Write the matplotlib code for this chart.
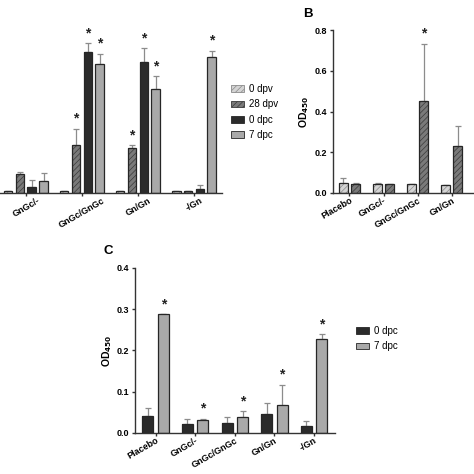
import matplotlib
matplotlib.use("Agg")
import matplotlib.pyplot as plt
from matplotlib.patches import Patch
from matplotlib.transforms import ScaledTranslation
import numpy as np

plt.rcParams['font.family'] = ['Liberation Sans', 'DejaVu Sans']
plt.rcParams['hatch.linewidth'] = 0.5

# ---------------- data ----------------
a_groups = ["GnGc/-", "GnGc/GnGc", "Gn/Gn", "-/Gn"]
a_series = ["0 dpv", "28 dpv", "0 dpc", "7 dpc"]
a_vals = [
    [0.020, 0.020, 0.023, 0.023],     # 0 dpv
    [0.190, 0.483, 0.450, 0.017],     # 28 dpv
    [0.057, 1.410, 1.310, 0.040],     # 0 dpc
    [0.120, 1.287, 1.037, 1.357],     # 7 dpc
]
a_errs = [
    [0.0, 0.0, 0.0, 0.0],
    [0.020, 0.160, 0.030, 0.0],
    [0.070, 0.087, 0.140, 0.040],
    [0.083, 0.106, 0.133, 0.066],
]
a_stars = [
    [0, 0, 0, 0],
    [0, 1, 1, 0],
    [0, 1, 1, 0],
    [0, 1, 1, 1],
]

b_groups = ["Placebo", "GnGc/-", "GnGc/GnGc", "Gn/Gn"]
b_series = ["0 dpv", "28 dpv"]
b_vals = [
    [0.051, 0.044, 0.044, 0.040],
    [0.044, 0.044, 0.450, 0.233],
]
b_errs = [
    [0.022, 0.005, 0.0, 0.0],
    [0.006, 0.0, 0.283, 0.094],
]
b_stars = [
    [0, 0, 0, 0],
    [0, 0, 1, 0],
]
b_yticks = [0.0, 0.2, 0.4, 0.6, 0.8]

c_groups = ["Placebo", "GnGc/-", "GnGc/GnGc", "Gn/Gn", "-/Gn"]
c_series = ["0 dpc", "7 dpc"]
c_vals = [
    [0.0405, 0.020, 0.024, 0.045, 0.017],
    [0.2875, 0.031, 0.037, 0.067, 0.2275],
]
c_errs = [
    [0.0195, 0.013, 0.014, 0.028, 0.0105],
    [0.0, 0.003, 0.016, 0.050, 0.0125],
]
c_stars = [
    [0, 0, 0, 0, 0],
    [1, 1, 1, 1, 1],
]
c_yticks = [0.0, 0.1, 0.2, 0.3, 0.4]

# ---------------- styles ----------------
style = {
    "0 dpv": dict(face="#d4d4d4", hatch="//////", hcol="#8a8a8a"),
    "28 dpv": dict(face="#7a7a7a", hatch="//////", hcol="#3a3a3a"),
    "0 dpc": dict(face="#2b2b2b", hatch=None, hcol=None),
    "7 dpc": dict(face="#a9a9a9", hatch=None, hcol=None),
}
EDGE = "#262626"
ERRC = "#8c8c8c"
SPINE = "#333333"

W, H = 474, 474
fig = plt.figure(figsize=(W / 100, H / 100), dpi=100)


def ax_px(x0, y_top, x1, y_bot):
    return fig.add_axes([x0 / W, 1 - y_bot / H, (x1 - x0) / W, (y_bot - y_top) / H])


def draw_bars(ax, groups, series, vals, errs, stars, pitch, width, dx, dy, mode="anchor"):
    n = len(series)
    x = np.arange(len(groups))
    handles = []
    for i, s in enumerate(series):
        st = style[s]
        xs = x + (i - (n - 1) / 2) * pitch
        if st["hatch"]:
            ax.bar(xs, vals[i], width, color=st["face"], edgecolor=st["hcol"],
                   hatch=st["hatch"], linewidth=0, zorder=2)
        else:
            ax.bar(xs, vals[i], width, color=st["face"], linewidth=0, zorder=2)
        ax.bar(xs, vals[i], width, fill=False, edgecolor=EDGE, linewidth=0.9, zorder=3)
        e = np.array(errs[i])
        ax.errorbar(xs, vals[i], yerr=[np.zeros_like(e), e], fmt="none",
                    ecolor=ERRC, elinewidth=0.9, capsize=2, capthick=0.9, zorder=1)
        for j, flag in enumerate(stars[i]):
            if flag:
                ax.annotate("*", (xs[j], vals[i][j] + errs[i][j]), xytext=(0, 2),
                            textcoords="offset points", ha="center", va="bottom",
                            fontsize=10, fontweight="bold", color="#222222")
        handles.append(Patch(facecolor=st["face"], edgecolor=st["hcol"] or EDGE,
                             hatch=st["hatch"], linewidth=0.6))
    ax.set_xticks(x)
    if mode == "anchor":
        ax.set_xticklabels(groups, rotation=30, ha="right", va="top",
                           rotation_mode="anchor", fontsize=6.5, fontweight="bold")
    else:
        ax.set_xticklabels(groups, rotation=30, ha="center", va="top",
                           rotation_mode="default", fontsize=6.5, fontweight="bold")
    off = ScaledTranslation(dx / 100, -dy / 100, fig.dpi_scale_trans)
    for lab in ax.get_xticklabels():
        lab.set_transform(lab.get_transform() + off)
    for sp in ["top", "right"]:
        ax.spines[sp].set_visible(False)
    for sp in ["left", "bottom"]:
        ax.spines[sp].set_color(SPINE)
        ax.spines[sp].set_linewidth(1.0)
    ax.tick_params(axis="x", length=2.2, width=1, color=SPINE, pad=0)
    ax.tick_params(axis="y", length=2.5, width=1, color=SPINE, labelsize=6.5, pad=1.5)
    for t in ax.get_yticklabels():
        t.set_fontweight("bold")
    ax.patch.set_alpha(0)
    return handles


# ---- panel A ----
axA = ax_px(0, 30, 222, 193)
hA = draw_bars(axA, a_groups, a_series, a_vals, a_errs, a_stars, 0.214, 0.16, -1, 8,
               mode="center")
axA.set_xlim(-0.464, 3.5)
axA.set_ylim(0, 1.63)
axA.spines["left"].set_visible(False)
axA.set_yticks([])
fig.legend(hA, a_series, loc="upper left", bbox_to_anchor=(231 / W, 1 - 84 / H),
           frameon=False, fontsize=7, handlelength=1.3, handleheight=0.7,
           handletextpad=0.6, labelspacing=0.55, borderpad=0, borderaxespad=0)

# ---- panel B ----
axB = ax_px(333, 30, 474, 193)
draw_bars(axB, b_groups, b_series, b_vals, b_errs, b_stars, 0.353, 0.25, 4, 8)
axB.set_xlim(-0.485, 3.66)
axB.set_ylim(0, 0.8)
axB.set_yticks(b_yticks)
axB.set_yticklabels([f"{v:.1f}" for v in b_yticks], fontweight="bold")
axB.set_ylabel("OD$_{\\mathbf{450}}$", fontsize=7.5, fontweight="bold", labelpad=3)
fig.text(303 / W, 1 - 14 / H, "B", fontsize=9.5, fontweight="bold", va="center")

# ---- panel C ----
axC = ax_px(135, 268, 335, 432.7)
hC = draw_bars(axC, c_groups, c_series, c_vals, c_errs, c_stars, 0.39, 0.28, 8, 9)
axC.set_xlim(-0.52, 4.53)
axC.set_ylim(0, 0.4)
axC.set_yticks(c_yticks)
axC.set_yticklabels([f"{v:.1f}" for v in c_yticks], fontweight="bold")
axC.set_ylabel("OD$_{\\mathbf{450}}$", fontsize=7.5, fontweight="bold", labelpad=2)
fig.text(104 / W, 1 - 251 / H, "C", fontsize=9.5, fontweight="bold", va="center")
fig.legend(hC, c_series, loc="upper left", bbox_to_anchor=(356 / W, 1 - 326 / H),
           frameon=False, fontsize=7, handlelength=1.3, handleheight=0.7,
           handletextpad=0.6, labelspacing=0.55, borderpad=0, borderaxespad=0)

fig.savefig("out.png", dpi=100)
